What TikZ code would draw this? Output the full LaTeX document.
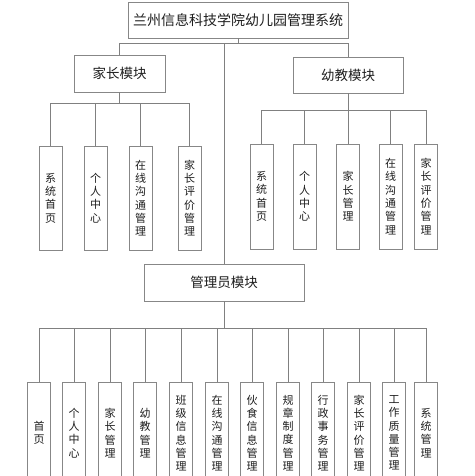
\documentclass[tikz,border=0pt]{standalone}
\usepackage{fontspec}
\setmainfont{Noto Sans CJK SC}
\definecolor{linec}{RGB}{128,128,128}
\definecolor{boxc}{RGB}{135,135,135}
\definecolor{txtc}{RGB}{30,30,30}
\begin{document}
\begin{tikzpicture}[x=1pt,y=-1pt,
  box/.style={draw=boxc,line width=0.9pt,fill=white,text=txtc,inner sep=0pt,align=center},
  modbox/.style={box,font=\fontsize{13.5}{15}\selectfont},
  leaf/.style={box,minimum width=23pt,font=\fontsize{11}{13.3}\selectfont},
  conn/.style={draw=linec,line width=0.9pt}]
\useasboundingbox (0,0) rectangle (474,476);
\clip (0,0) rectangle (474,476);
\fill[white] (0,0) rectangle (474,476);

% title and modules
\node[box,minimum width=220pt,minimum height=36pt,font=\fontsize{14}{16}\selectfont] (title) at (238,20) {兰州信息科技学院幼儿园管理系统};
\node[modbox,minimum width=91pt,minimum height=37pt] (jz) at (119.5,73.5) {家长模块};
\node[modbox,minimum width=110pt,minimum height=36pt] (yj) at (348,75) {幼教模块};
\node[modbox,minimum width=160pt,minimum height=37pt] (adm) at (224,282.5) {管理员模块};

% left leaves (家长模块)
\node[leaf,minimum height=104pt] (l1) at (50.5,198) {系\\统\\首\\页};
\node[leaf,minimum height=104pt] (l2) at (95.5,198) {个\\人\\中\\心};
\node[leaf,minimum height=104pt] (l3) at (140.5,198) {在\\线\\沟\\通\\管\\理};
\node[leaf,minimum height=104pt] (l4) at (189.5,198) {家\\长\\评\\价\\管\\理};

% right leaves (幼教模块)
\node[leaf,minimum height=105pt] (r1) at (261.5,196.5) {系\\统\\首\\页};
\node[leaf,minimum height=105pt] (r2) at (304.5,196.5) {个\\人\\中\\心};
\node[leaf,minimum height=105pt] (r3) at (348,196.5) {家\\长\\管\\理};
\node[leaf,minimum height=105pt] (r4) at (390.5,196.5) {在\\线\\沟\\通\\管\\理};
\node[leaf,minimum height=105pt] (r5) at (426,196.5) {家\\长\\评\\价\\管\\理};

% bottom leaves (管理员模块)
\node[leaf,minimum height=102pt] (b1) at (39,433) {首\\页};
\node[leaf,minimum height=102pt] (b2) at (74,433) {个\\人\\中\\心};
\node[leaf,minimum height=102pt] (b3) at (110,433) {家\\长\\管\\理};
\node[leaf,minimum height=102pt] (b4) at (145,433) {幼\\教\\管\\理};
\node[leaf,minimum height=102pt] (b5) at (181,433) {班\\级\\信\\息\\管\\理};
\node[leaf,minimum height=102pt] (b6) at (217,433) {在\\线\\沟\\通\\管\\理};
\node[leaf,minimum height=102pt] (b7) at (252,433) {伙\\食\\信\\息\\管\\理};
\node[leaf,minimum height=102pt] (b8) at (288,433) {规\\章\\制\\度\\管\\理};
\node[leaf,minimum height=102pt] (b9) at (323,433) {行\\政\\事\\务\\管\\理};
\node[leaf,minimum height=102pt] (b10) at (359,433) {家\\长\\评\\价\\管\\理};
\node[leaf,minimum height=102pt] (b11) at (394,433) {工\\作\\质\\量\\管\\理};
\node[leaf,minimum height=102pt] (b12) at (426,433) {系\\统\\管\\理};

% bus coordinates
\coordinate (bus0) at (0,43);
\coordinate (busL) at (0,103);
\coordinate (busR) at (0,110);
\coordinate (busB) at (0,328);

% connectors from title
\path[conn] (title.south) -- (title.south |- bus0);
\path[conn] (jz.north) |- (yj.north |- bus0) -- (yj.north);
\path[conn] (adm.north) -- (adm.north |- bus0);

% left group
\path[conn] (jz.south) -- (jz.south |- busL);
\path[conn] (l1.north) |- (l4.north |- busL) -- (l4.north);
\foreach \n in {l2,l3} \path[conn] (\n.north) -- (\n.north |- busL);

% right group
\path[conn] (yj.south) -- (yj.south |- busR);
\path[conn] (r1.north) |- (r5.north |- busR) -- (r5.north);
\foreach \n in {r2,r3,r4} \path[conn] (\n.north) -- (\n.north |- busR);

% bottom group
\path[conn] (adm.south) -- (adm.south |- busB);
\path[conn] (b1.north) |- (b12.north |- busB) -- (b12.north);
\foreach \n in {b2,b3,b4,b5,b6,b7,b8,b9,b10,b11} \path[conn] (\n.north) -- (\n.north |- busB);
\end{tikzpicture}
\end{document}
